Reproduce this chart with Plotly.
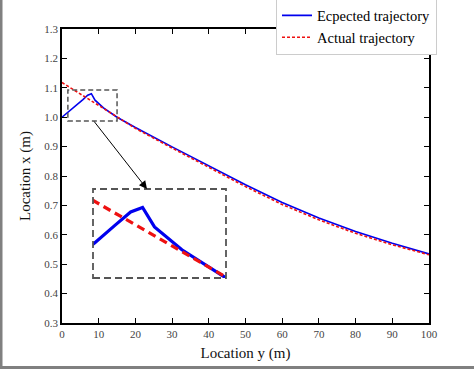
import plotly.graph_objects as go

# ---- data ----
expected_x = [0, 2, 4, 5.7, 7, 8, 9, 11.3, 15, 20, 30, 40, 50, 60, 70, 80, 90, 100]
expected_y = [1.0, 1.02, 1.04, 1.06, 1.075, 1.08, 1.058, 1.032, 1.0, 0.965, 0.899, 0.834, 0.770, 0.710, 0.657, 0.611, 0.571, 0.535]
actual_x = [0, 5, 10, 15, 20, 30, 40, 50, 60, 70, 80, 90, 100]
actual_y = [1.118, 1.079, 1.04, 1.0, 0.962, 0.895, 0.829, 0.764, 0.703, 0.651, 0.605, 0.566, 0.532]
x_ticks = [0, 10, 20, 30, 40, 50, 60, 70, 80, 90, 100]
y_ticks = [0.3, 0.4, 0.5, 0.6, 0.7, 0.8, 0.9, 1.0, 1.1, 1.2, 1.3]
zoom_x_range = [3.84, 15]
zoom_y_range = [1.0, 1.101]
box_x = [1.6, 15.0]
box_y = [0.987, 1.0925]

W, H = 474, 369
L, R, T, B = 62, 429, 29, 323
def px(x):
    return (x - L) / (R - L)
def py(y):
    return (B - y) / (B - T)

SERIF = "Liberation Serif"
fig = go.Figure()
fig.add_trace(go.Scatter(x=expected_x, y=expected_y, mode="lines", name="Ecpected trajectory",
                         line=dict(color="#0000EE", width=1.6)))
fig.add_trace(go.Scatter(x=actual_x, y=actual_y, mode="lines", name="Actual trajectory",
                         line=dict(color="#EE1111", width=1.6, dash="3px,2px")))
# inset
fig.add_trace(go.Scatter(x=expected_x, y=expected_y, mode="lines", showlegend=False,
                         xaxis="x2", yaxis="y2", line=dict(color="#0000EE", width=3.2)))
fig.add_trace(go.Scatter(x=actual_x, y=actual_y, mode="lines", showlegend=False,
                         xaxis="x2", yaxis="y2", line=dict(color="#EE1111", width=3.2, dash="8px,5px")))

axis_common = dict(showline=True, linecolor="black", linewidth=1.5, mirror="ticks",
                   ticks="inside", ticklen=5, tickwidth=1.2, tickcolor="black",
                   showgrid=False, zeroline=False,
                   tickfont=dict(family=SERIF, size=11, color="#444"))
fig.update_layout(
    width=W, height=H,
    margin=dict(l=L, r=W - R, t=T, b=H - B, autoexpand=False),
    paper_bgcolor="white", plot_bgcolor="white",
    xaxis=dict(range=[0, 100], tickvals=x_ticks, ticktext=[str(v) for v in x_ticks],
               title=dict(text="Location y (m)", font=dict(family=SERIF, size=15, color="#111"), standoff=9),
               **axis_common),
    yaxis=dict(range=[0.3, 1.3], tickvals=y_ticks, ticktext=["%.1f" % v for v in y_ticks],
               title=dict(text="Location x (m)", font=dict(family=SERIF, size=15, color="#111"), standoff=10),
               **axis_common),
    xaxis2=dict(domain=[px(93), px(226)], anchor="y2", range=zoom_x_range, visible=False),
    yaxis2=dict(domain=[py(278), py(189)], anchor="x2", range=zoom_y_range, visible=False),
    legend=dict(x=px(276), y=py(-1.5), xanchor="left", yanchor="top",
                bgcolor="white", bordercolor="#cccccc", borderwidth=1,
                font=dict(family=SERIF, size=14.5, color="black"),
                tracegroupgap=0, itemwidth=30),
    showlegend=True,
)
shapes = [
    dict(type="rect", xref="x", yref="y", x0=box_x[0], x1=box_x[1], y0=box_y[0], y1=box_y[1],
         line=dict(color="#555", width=1.5, dash="5px,3px")),
    dict(type="rect", xref="paper", yref="paper", x0=px(93), x1=px(226), y0=py(278), y1=py(189),
         line=dict(color="#555", width=1.8, dash="7px,4px")),
    dict(type="rect", xref="paper", yref="paper", x0=px(0), x1=px(2.5), y0=py(369), y1=py(0),
         fillcolor="#808080", line=dict(width=0), layer="above"),
    dict(type="rect", xref="paper", yref="paper", x0=px(0), x1=px(474), y0=py(369), y1=py(366),
         fillcolor="#808080", line=dict(width=0), layer="above"),
]
fig.update_layout(shapes=shapes)
fig.add_annotation(x=px(147), y=py(189), xref="paper", yref="paper",
                   ax=93 - 147, ay=120 - 189, axref="pixel", ayref="pixel",
                   showarrow=True, arrowhead=2, arrowsize=1.6, arrowwidth=1, arrowcolor="black", text="")
fig.write_html("out.html", config={"displayModeBar": False},
               post_script="document.body.style.margin='0px';document.body.style.overflow='hidden';")
